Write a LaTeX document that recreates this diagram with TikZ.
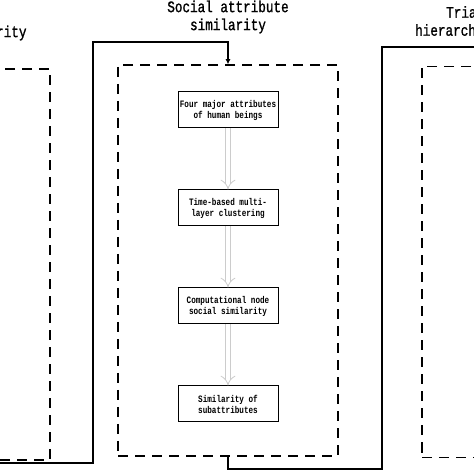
\documentclass[tikz,border=0pt]{standalone}
\usepackage{fontspec}
\setmonofont{Liberation Mono}
\newfontfamily\headfont[FakeStretch=0.79, FakeBold=1.2]{Liberation Mono}
\newfontfamily\stagefont[FakeStretch=0.78]{Liberation Mono Bold}
\usetikzlibrary{positioning, arrows.meta}
\tikzset{
  stage/.style={
    draw,
    rectangle,
    line width=1pt,
    minimum width=100pt,
    minimum height=36pt,
    inner sep=1pt,
    align=center,
    font=\stagefont\fontsize{9.8}{11}\selectfont
  },
  frame/.style={
    draw,
    line width=1.5pt,
    dash pattern=on 10pt off 7pt,
    minimum width=220pt,
    minimum height=391pt
  },
  heading/.style={
    inner sep=0pt,
    align=center,
    font=\headfont\fontsize{16}{18}\selectfont
  },
  link/.style={
    line width=1.6pt,
    -{Latex[length=5pt, width=5pt]}
  }
}

\begin{document}
\begin{tikzpicture}[x=1pt, y=1pt,
      flow/.style={double, double distance=4.5pt, draw=gray!40, line width=0.8pt, -{Implies}}
    ]
      \useasboundingbox (0,0) rectangle (474,474);

      % Ramki
      \node[frame] (leftframe) at (-60,209.5) {};
      \node[frame] (social) at (228,213.5) {};
      \node[frame] (rightframe) at (532,212) {};

      % Tytuly
      \node[heading, anchor=west] (lefttitle) at (-4,441) {rity};
      \node[heading] (socialtitle) at (228,457) {Social attribute\\similarity};
      \node[heading, anchor=west] (righttitle) at (446,462) {Tria};
      \node[heading, anchor=west] (righttitle2) at (415,444) {hierarch};

      % Etapy
      \node[stage] (attr) at (228,364) {Four major attributes\\of human beings};
      \node[stage, below=61pt of attr] (cluster) {Time-based multi-\\layer clustering};
      \node[stage, below=61pt of cluster] (nodesim) {Computational node\\social similarity};
      \node[stage, below=61pt of nodesim] (subsim) {Similarity of\\subattributes};

      \draw[flow] (attr) -- (cluster);
      \draw[flow] (cluster) -- (nodesim);
      \draw[flow] (nodesim) -- (subsim);

      % Polaczenia
      \coordinate (lb) at (93,11);
      \coordinate (lt) at (93,432);
      \coordinate (rb) at (382,5);
      \coordinate (rt) at (382,427);
      \draw[link] (leftframe.south) |- (lb) -- (lt) -| (social.north);
      \draw[link] (social.south) |- (rb) -- (rt) -| (rightframe.north);
    \end{tikzpicture}
\end{document}
